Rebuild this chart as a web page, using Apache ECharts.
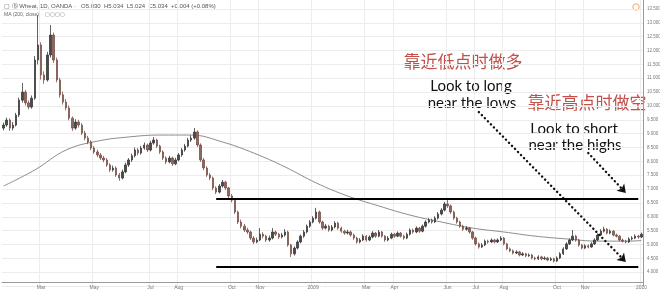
<!DOCTYPE html>
<html><head><meta charset="utf-8">
<script src="https://cdn.jsdelivr.net/npm/echarts@6/dist/echarts.min.js"></script>
<style>html,body{margin:0;padding:0;background:#fff}#c{width:660px;height:292px}</style>
</head><body><div id="c"></div>
<script>
const dates = [
'2008-01-21','2008-01-24','2008-01-28','2008-01-31','2008-02-04','2008-02-07','2008-02-11','2008-02-14','2008-02-18','2008-02-21',
'2008-02-25','2008-02-28','2008-03-03','2008-03-06','2008-03-10','2008-03-13','2008-03-17','2008-03-20','2008-03-24','2008-03-27',
'2008-03-31','2008-04-03','2008-04-07','2008-04-10','2008-04-14','2008-04-17','2008-04-21','2008-04-24','2008-04-28','2008-05-01',
'2008-05-05','2008-05-08','2008-05-12','2008-05-15','2008-05-19','2008-05-22','2008-05-26','2008-05-29','2008-06-02','2008-06-05',
'2008-06-09','2008-06-12','2008-06-16','2008-06-19','2008-06-23','2008-06-26','2008-06-30','2008-07-03','2008-07-07','2008-07-10',
'2008-07-14','2008-07-17','2008-07-21','2008-07-24','2008-07-28','2008-07-31','2008-08-04','2008-08-07','2008-08-11','2008-08-14',
'2008-08-18','2008-08-21','2008-08-25','2008-08-28','2008-09-01','2008-09-04','2008-09-08','2008-09-11','2008-09-15','2008-09-18',
'2008-09-22','2008-09-25','2008-09-29','2008-10-02','2008-10-06','2008-10-09','2008-10-13','2008-10-16','2008-10-20','2008-10-23',
'2008-10-27','2008-10-30','2008-11-03','2008-11-06','2008-11-10','2008-11-13','2008-11-17','2008-11-20','2008-11-24','2008-11-27',
'2008-12-01','2008-12-04','2008-12-08','2008-12-11','2008-12-15','2008-12-18','2008-12-22','2008-12-25','2008-12-29','2009-01-01',
'2009-01-05','2009-01-08','2009-01-12','2009-01-15','2009-01-19','2009-01-22','2009-01-26','2009-01-29','2009-02-02','2009-02-05',
'2009-02-09','2009-02-12','2009-02-16','2009-02-19','2009-02-23','2009-02-26','2009-03-02','2009-03-05','2009-03-09','2009-03-12',
'2009-03-16','2009-03-19','2009-03-23','2009-03-26','2009-03-30','2009-04-02','2009-04-06','2009-04-09','2009-04-13','2009-04-16',
'2009-04-20','2009-04-23','2009-04-27','2009-04-30','2009-05-04','2009-05-07','2009-05-11','2009-05-14','2009-05-18','2009-05-21',
'2009-05-25','2009-05-28','2009-06-01','2009-06-04','2009-06-08','2009-06-11','2009-06-15','2009-06-18','2009-06-22','2009-06-25',
'2009-06-29','2009-07-02','2009-07-06','2009-07-09','2009-07-13','2009-07-16','2009-07-20','2009-07-23','2009-07-27','2009-07-30',
'2009-08-03','2009-08-06','2009-08-10','2009-08-13','2009-08-17','2009-08-20','2009-08-24','2009-08-27','2009-08-31','2009-09-03',
'2009-09-07','2009-09-10','2009-09-14','2009-09-17','2009-09-21','2009-09-24','2009-09-28','2009-10-01','2009-10-05','2009-10-08',
'2009-10-12','2009-10-15','2009-10-19','2009-10-22','2009-10-26','2009-10-29','2009-11-02','2009-11-05','2009-11-09','2009-11-12',
'2009-11-16','2009-11-19','2009-11-23','2009-11-26','2009-11-30','2009-12-03','2009-12-07','2009-12-10','2009-12-14','2009-12-17',
'2009-12-21','2009-12-24','2009-12-28','2009-12-31','2010-01-04'];

const openP = [
9.20,9.31,9.49,9.20,9.31,9.67,10.21,10.50,10.11,9.96,
10.28,11.66,12.20,11.12,10.94,11.84,12.56,11.66,10.94,10.40,
10.14,9.93,9.56,9.20,9.42,9.31,9.02,8.84,8.70,8.48,
8.34,8.23,8.12,8.05,7.87,7.69,7.76,7.51,7.40,7.62,
7.87,8.05,8.20,8.41,8.30,8.48,8.59,8.41,8.66,8.77,
8.55,8.34,8.12,7.98,8.12,7.91,8.05,8.23,8.41,8.55,
8.77,8.84,9.06,8.59,8.05,7.76,7.51,7.40,7.04,6.89,
7.11,7.25,7.04,6.75,6.60,6.17,5.81,5.66,5.52,5.45,
5.23,5.09,5.16,5.37,5.30,5.16,5.23,5.45,5.37,5.27,
5.34,5.45,4.98,4.66,4.87,5.09,5.30,5.45,5.66,5.81,
5.95,6.17,5.81,5.59,5.66,5.52,5.63,5.77,5.59,5.48,
5.41,5.45,5.34,5.23,5.09,5.16,5.30,5.16,5.27,5.41,
5.30,5.45,5.30,5.16,5.23,5.37,5.30,5.41,5.30,5.23,
5.37,5.52,5.45,5.59,5.48,5.66,5.81,5.88,5.81,5.95,
6.10,6.24,6.46,6.39,6.17,5.95,5.81,5.66,5.55,5.59,
5.45,5.23,5.02,4.91,4.98,5.12,5.09,5.16,5.09,5.16,
5.23,5.02,4.84,4.77,4.69,4.73,4.62,4.66,4.59,4.62,
4.51,4.48,4.55,4.48,4.51,4.44,4.48,4.40,4.51,4.66,
4.84,5.02,5.16,5.30,5.16,4.98,4.87,4.95,4.91,5.02,
5.16,5.34,5.48,5.55,5.41,5.48,5.34,5.30,5.16,5.12,
5.09,5.20,5.23,5.30,5.27];

const closeP = [
9.31,9.49,9.20,9.31,9.67,10.21,10.50,10.11,9.96,10.28,
11.66,12.20,11.12,10.94,11.84,12.56,11.66,10.94,10.40,10.14,
9.93,9.56,9.20,9.42,9.31,9.02,8.84,8.70,8.48,8.34,
8.23,8.12,8.05,7.87,7.69,7.76,7.51,7.40,7.62,7.87,
8.05,8.20,8.41,8.30,8.48,8.59,8.41,8.66,8.77,8.55,
8.34,8.12,7.98,8.12,7.91,8.05,8.23,8.41,8.55,8.77,
8.84,9.06,8.59,8.05,7.76,7.51,7.40,7.04,6.89,7.11,
7.25,7.04,6.75,6.60,6.17,5.81,5.66,5.52,5.45,5.23,
5.09,5.16,5.37,5.30,5.16,5.23,5.45,5.37,5.27,5.34,
5.45,4.98,4.66,4.87,5.09,5.30,5.45,5.66,5.81,5.95,
6.17,5.81,5.59,5.66,5.52,5.63,5.77,5.59,5.48,5.41,
5.45,5.34,5.23,5.09,5.16,5.30,5.16,5.27,5.41,5.30,
5.45,5.30,5.16,5.23,5.37,5.30,5.41,5.30,5.23,5.37,
5.52,5.45,5.59,5.48,5.66,5.81,5.88,5.81,5.95,6.10,
6.24,6.46,6.39,6.17,5.95,5.81,5.66,5.55,5.59,5.45,
5.23,5.02,4.91,4.98,5.12,5.09,5.16,5.09,5.16,5.23,
5.02,4.84,4.77,4.69,4.73,4.62,4.66,4.59,4.62,4.51,
4.48,4.55,4.48,4.51,4.44,4.48,4.40,4.51,4.66,4.84,
5.02,5.16,5.30,5.16,4.98,4.87,4.95,4.91,5.02,5.16,
5.34,5.48,5.55,5.41,5.48,5.34,5.30,5.16,5.12,5.09,
5.20,5.23,5.30,5.27,5.37];

const lowP = [
9.12,9.25,9.10,9.12,9.26,9.60,10.12,10.02,9.88,9.90,
10.22,11.50,10.95,10.80,10.88,11.75,11.55,10.85,10.30,10.05,
9.84,9.48,9.10,9.14,9.22,8.95,8.76,8.62,8.40,8.27,
8.15,8.05,7.97,7.80,7.62,7.63,7.44,7.30,7.35,7.57,
7.80,7.98,8.14,8.22,8.24,8.42,8.34,8.36,8.60,8.48,
8.27,8.05,7.90,7.93,7.84,7.86,8.00,8.17,8.35,8.50,
8.70,8.78,8.52,7.98,7.68,7.44,7.32,6.96,6.82,6.84,
7.05,6.97,6.68,6.52,6.10,5.74,5.58,5.45,5.38,5.16,
5.02,5.04,5.12,5.22,5.09,5.10,5.18,5.30,5.20,5.22,
5.28,4.92,4.55,4.60,4.82,5.04,5.24,5.40,5.60,5.76,
5.90,5.75,5.52,5.54,5.46,5.47,5.58,5.53,5.42,5.35,
5.36,5.28,5.17,5.03,5.04,5.12,5.10,5.12,5.22,5.24,
5.26,5.24,5.10,5.11,5.19,5.24,5.26,5.25,5.17,5.19,
5.32,5.39,5.41,5.42,5.44,5.61,5.76,5.75,5.77,5.90,
6.05,6.19,6.32,6.10,5.89,5.75,5.60,5.49,5.50,5.39,
5.17,4.96,4.85,4.87,4.94,5.03,5.05,5.04,5.05,5.12,
4.97,4.79,4.72,4.64,4.65,4.57,4.58,4.54,4.55,4.46,
4.43,4.44,4.43,4.44,4.39,4.40,4.35,4.37,4.47,4.62,
4.80,4.98,5.12,5.10,4.92,4.82,4.83,4.86,4.88,4.98,
5.12,5.30,5.43,5.36,5.37,5.29,5.25,5.11,5.07,5.04,
5.05,5.15,5.19,5.21,5.23];

const highP = [
9.40,9.58,9.55,9.42,9.75,10.30,10.83,10.58,10.20,10.38,
11.80,13.28,12.30,11.25,11.95,12.92,12.65,11.75,11.02,10.52,
10.25,10.02,9.62,9.52,9.50,9.38,9.10,8.92,8.76,8.55,
8.42,8.30,8.20,8.12,7.93,7.85,7.82,7.58,7.70,7.95,
8.12,8.28,8.50,8.48,8.56,8.68,8.64,8.74,8.88,8.82,
8.60,8.40,8.18,8.20,8.17,8.13,8.30,8.48,8.63,8.85,
8.94,9.20,9.12,8.65,8.12,7.82,7.58,7.45,7.10,7.18,
7.33,7.30,7.08,6.82,6.65,6.22,5.90,5.74,5.60,5.50,
5.30,5.25,5.59,5.44,5.35,5.32,5.59,5.50,5.42,5.42,
5.55,5.50,5.02,4.93,5.15,5.36,5.52,5.72,5.88,6.02,
6.32,6.22,5.86,5.74,5.71,5.70,5.84,5.82,5.64,5.53,
5.53,5.50,5.39,5.28,5.23,5.37,5.34,5.33,5.48,5.45,
5.52,5.49,5.34,5.30,5.43,5.42,5.47,5.45,5.35,5.43,
5.58,5.57,5.65,5.63,5.72,5.87,5.95,5.93,6.02,6.17,
6.31,6.54,6.68,6.44,6.22,6.00,5.86,5.71,5.66,5.63,
5.49,5.28,5.07,5.05,5.18,5.17,5.22,5.20,5.22,5.30,
5.27,5.06,4.89,4.82,4.79,4.77,4.72,4.70,4.68,4.66,
4.56,4.61,4.59,4.57,4.55,4.54,4.52,4.57,4.72,4.90,
5.08,5.22,5.52,5.35,5.20,5.02,5.01,5.00,5.08,5.22,
5.40,5.55,5.64,5.59,5.54,5.52,5.39,5.34,5.21,5.17,
5.26,5.30,5.36,5.35,5.43];

// MA(200) at a few dates
const maDates = ['2008-01-21','2008-02-25','2008-03-31','2008-05-05','2008-06-09','2008-07-14','2008-08-18','2008-09-22','2008-10-27','2008-12-01','2009-01-05','2009-02-09','2009-03-16','2009-04-20','2009-05-25','2009-06-29','2009-08-03','2009-09-07','2009-10-12','2009-11-16','2009-12-21','2010-01-04'];
const maValues = [7.11,7.69,8.41,8.73,8.88,8.95,8.95,8.70,8.30,7.80,7.22,6.75,6.39,6.06,5.81,5.59,5.45,5.30,5.20,5.12,5.12,5.14];

// x-axis labels
const tickDates = ['2008-03-03','2008-05-01','2008-07-03','2008-08-04','2008-10-02','2008-11-03','2009-01-01','2009-03-02','2009-04-02','2009-06-01','2009-07-02','2009-08-03','2009-10-01','2009-11-02','2010-01-04'];
const tickLabels = ['Mar','May','Jul','Aug','Oct','Nov','2009','Mar','Apr','Jun','Jul','Aug','Oct','Nov','2010'];

// support / resistance levels and arrow anchors
const levelStart = '2008-09-15', levelEnd = '2009-12-31';
const resistance = 6.66, support = 4.20;
const arrowLong = [['2009-07-06', 9.78], ['2009-12-17', 4.37]];
const arrowShort = [['2009-11-05', 8.30], ['2009-12-17', 6.86]];

const candles = dates.map((d, i) => [openP[i], closeP[i], lowP[i], highP[i]]);
const maData = maDates.map((d, i) => [d, maValues[i]]);
const tickSet = {};
tickDates.forEach((d, i) => tickSet[d] = tickLabels[i]);
const isTick = (idx, val) => tickSet[val] !== undefined;

const chart = echarts.init(document.getElementById('c'), null, {renderer: 'canvas'});
chart.setOption({
  animation: false,
  backgroundColor: '#ffffff',
  grid: {left: 2, right: 17, top: -4.85, bottom: 6, containLabel: false, outerBoundsMode: 'none'},
  xAxis: {
    type: 'category', data: dates, boundaryGap: true, offset: -4,
    axisLine: {lineStyle: {color: '#9a9a9a', width: 1}},
    axisTick: {show: false},
    axisLabel: {interval: isTick, formatter: v => tickSet[v] || '', fontSize: 5, color: '#777', margin: 3, fontFamily: 'Liberation Sans'},
    splitLine: {show: true, interval: isTick, lineStyle: {color: '#ececec', width: 1}}
  },
  yAxis: {
    type: 'value', position: 'right', min: 3.5, max: 14, interval: 0.5, scale: true,
    axisLine: {show: true, lineStyle: {color: '#9a9a9a', width: 1}},
    axisTick: {show: false},
    axisLabel: {fontSize: 4.5, color: '#777', margin: 4, fontFamily: 'Liberation Sans',
      formatter: v => (v < 3.99 || v > 13.51) ? '' : v.toFixed(3)},
    splitLine: {show: true, lineStyle: {color: '#ececec', width: 1}}
  },
  series: [
    {
      type: 'line', data: maData, smooth: 0.4, showSymbol: false, symbol: 'none',
      lineStyle: {color: '#8c8c8c', width: 1}, z: 2, silent: true,
      markLine: {
        silent: true, symbol: ['none', 'arrow'], symbolSize: 8,
        label: {show: false},
        lineStyle: {color: '#111', width: 2.4, type: [0.1, 4.2], cap: 'round'},
        data: [
          [{coord: arrowLong[0]}, {coord: arrowLong[1]}],
          [{coord: arrowShort[0]}, {coord: arrowShort[1]}]
        ]
      }
    },
    {
      type: 'candlestick', data: candles, barWidth: '62%', z: 3,
      itemStyle: {color: '#4a4a4a', color0: '#8d6860', borderColor: '#3a3a3a', borderColor0: '#7a5048', borderWidth: 0.8},
      markLine: {
        silent: true, symbol: ['none', 'none'], label: {show: false},
        lineStyle: {color: '#000', width: 2, type: 'solid'},
        data: [
          [{coord: [levelStart, resistance]}, {coord: [levelEnd, resistance]}],
          [{coord: [levelStart, support]}, {coord: [levelEnd, support]}]
        ]
      }
    }
  ],
  graphic: [
    {type: 'text', x: 4, y: 6, style: {text: '\u25A2 \u24B7 Wheat, 1D, OANDA \u00B7   O5.030  H5.034  L5.024  C5.034  +0.004 (+0.08%)', fontSize: 6, fontFamily: 'Liberation Sans', fill: '#555', verticalAlign: 'middle'}},
    {type: 'text', x: 4, y: 14.5, style: {text: 'MA (200, close) \u00B7  \u25A2\u25A2\u25A2\u25A2', fontSize: 5, fontFamily: 'Liberation Sans', fill: '#666', verticalAlign: 'middle'}},
    {type: 'circle', shape: {cx: 636, cy: 7, r: 3.2}, style: {fill: '#fff', stroke: '#f0a868', lineWidth: 1}},
    {type: 'text', x: 463, y: 62, style: {text: '靠近低点时做多', fontSize: 17, fontFamily: 'Noto Sans CJK SC', fill: '#c4504a', align: 'center', verticalAlign: 'middle'}},
    {type: 'text', x: 471, y: 86, style: {text: 'Look to long', fontSize: 15, fontFamily: 'Lato', fill: '#111', align: 'center', verticalAlign: 'middle'}},
    {type: 'text', x: 472, y: 103, style: {text: 'near the lows', fontSize: 15, fontFamily: 'Lato', fill: '#111', align: 'center', verticalAlign: 'middle'}},
    {type: 'text', x: 587, y: 103, style: {text: '靠近高点时做空', fontSize: 17, fontFamily: 'Noto Sans CJK SC', fill: '#c4504a', align: 'center', verticalAlign: 'middle'}},
    {type: 'text', x: 574, y: 129, style: {text: 'Look to short', fontSize: 15, fontFamily: 'Lato', fill: '#111', align: 'center', verticalAlign: 'middle'}},
    {type: 'text', x: 575, y: 145, style: {text: 'near the highs', fontSize: 15, fontFamily: 'Lato', fill: '#111', align: 'center', verticalAlign: 'middle'}}
  ]
});
</script>
</body></html>
